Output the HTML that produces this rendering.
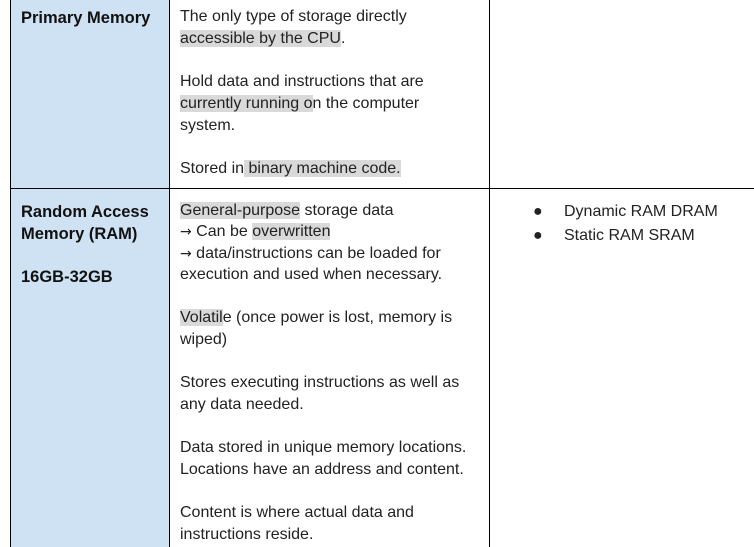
<!DOCTYPE html>
<html><head><style>
body{margin:0;width:754px;height:547px;background:#fff;position:relative;overflow:hidden;font-family:"Liberation Sans",sans-serif;font-size:16px;color:#222}
.l{position:absolute;white-space:nowrap;line-height:20px}
.h{background:#d9d9d9}
.b{font-weight:bold;color:#111;font-size:16.5px}
.a{font-family:"DejaVu Sans",sans-serif;font-size:14px}
.v{position:absolute;top:0;width:1px;height:547px;background:#000}
</style></head><body>
<div style="position:absolute;left:10px;top:0;width:159px;height:547px;background:#cfe2f3"></div>
<div class="v" style="left:10px"></div>
<div class="v" style="left:169px"></div>
<div class="v" style="left:489px"></div>
<div style="position:absolute;left:10px;top:188px;width:744px;height:1px;background:#000"></div>

<div class="l b" style="left:21px;top:8px">Primary Memory</div>
<div class="l" style="left:180px;top:7px">The only type of storage directly</div>
<div class="l" style="left:180px;top:29px"><span class="h">accessible by the CPU</span>.</div>
<div class="l" style="left:180px;top:72px">Hold data and instructions that are</div>
<div class="l" style="left:180px;top:94px"><span class="h">currently running o</span>n the computer</div>
<div class="l" style="left:180px;top:116px">system.</div>
<div class="l" style="left:180px;top:159px">Stored in<span class="h"> binary machine code.</span></div>

<div class="l b" style="left:21px;top:202px">Random Access</div>
<div class="l b" style="left:21px;top:224px">Memory (RAM)</div>
<div class="l b" style="left:21px;top:267px">16GB-32GB</div>

<div class="l" style="left:180px;top:201px"><span class="h">General-purpose</span> storage data</div>
<div class="l" style="left:180px;top:222px"><span class="a">→</span> Can be <span class="h">overwritten</span></div>
<div class="l" style="left:180px;top:244px"><span class="a">→</span> data/instructions can be loaded for</div>
<div class="l" style="left:180px;top:265px">execution and used when necessary.</div>
<div class="l" style="left:180px;top:308px"><span class="h">Volatil</span>e (once power is lost, memory is</div>
<div class="l" style="left:180px;top:330px">wiped)</div>
<div class="l" style="left:180px;top:373px">Stores executing instructions as well as</div>
<div class="l" style="left:180px;top:395px">any data needed.</div>
<div class="l" style="left:180px;top:438px">Data stored in unique memory locations.</div>
<div class="l" style="left:180px;top:460px">Locations have an address and content.</div>
<div class="l" style="left:180px;top:503px">Content is where actual data and</div>
<div class="l" style="left:180px;top:525px">instructions reside.</div>

<div class="l" style="left:533px;top:202px">●</div>
<div class="l" style="left:564px;top:202px">Dynamic RAM DRAM</div>
<div class="l" style="left:533px;top:226px">●</div>
<div class="l" style="left:564px;top:226px">Static RAM SRAM</div>
</body></html>
